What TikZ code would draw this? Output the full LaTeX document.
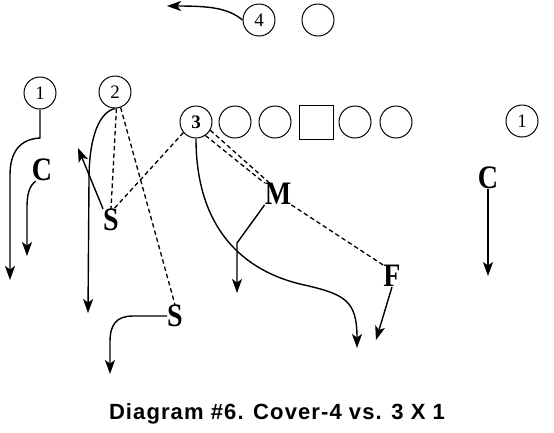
\documentclass[tikz,border=0pt]{standalone}
\usepackage{fontspec}
\usepackage{graphicx}
\setmainfont{Liberation Serif}
\newfontfamily\captionfont[LetterSpace=5]{Liberation Sans}
\usetikzlibrary{arrows.meta}
\newcommand{\tallglyph}[1]{\scalebox{1}[1.17]{#1}}

\begin{document}
\begin{tikzpicture}[x=1pt,y=1pt,yscale=-1,xscale=1,
  player/.style={circle,draw,line width=1pt,minimum size=32pt,inner sep=0pt,font=\fontsize{19}{19}\selectfont},
  snapbox/.style={rectangle,draw,line width=1pt,minimum size=34pt,inner sep=0pt},
  defender/.style={inner sep=0pt,font=\fontsize{28}{28}\selectfont\bfseries},
  route/.style={line width=1.4pt,-{Stealth[length=14pt,width=10pt,inset=3.5pt]}},
  readline/.style={line width=1.3pt,dash pattern={on 4.5pt off 3pt}}]
\path[use as bounding box] (0,0) rectangle (554,432);

%Shape: Circle (offense)
\node [player] (p4) at (259,20) {4};
\node [player] (p4b) at (318,20) {};
\node [player] (wrL1) at (40,93) {1};
\node [player] (wrL2) at (115,92) {2};
\node [player] (te3) at (196,122) {\textbf{3}};
\node [player] (lg) at (235,122) {};
\node [player] (lt) at (275,122) {};
\node [snapbox] (ctr) at (316,122) {};
\node [player] (rg) at (355,122) {};
\node [player] (rt) at (396,122) {};
\node [player] (wrR1) at (522,121) {1};

% Text Node (defense)
\node [defender] (cbL) at (42,170) {\tallglyph{C}};
\node [defender] (sS) at (111,220) {\tallglyph{S}};
\node [defender] (sD) at (175,316) {\tallglyph{S}};
\node [defender] (mM) at (278,194) {\tallglyph{M}};
\node [defender] (fF) at (392,276) {\tallglyph{F}};
\node [defender] (cbR) at (488,178) {\tallglyph{C}};

%Coordinates (route ends)
\coordinate (e4) at (167,6);
\coordinate (e1) at (10,280);
\coordinate (e9) at (27,256);
\coordinate (e2) at (88,313);
\coordinate (e5) at (78,148);
\coordinate (e8) at (110,374);
\coordinate (e3) at (357,348);
\coordinate (e6) at (237,293);
\coordinate (e7) at (376,340);
\coordinate (e10) at (488,276);

%Curve Lines
\draw [route] (p4.west) .. controls (228,8) and (210,6) .. (e4);
\draw [route] (wrL1.south) -- (40,138) .. controls (20,139) and (10,152) .. (10,175) -- (e1);
\draw [route] ([xshift=4pt]cbL.south west) .. controls (29,186) and (27,195) .. (27,207) -- (e9);
\draw [route] (wrL2.south) .. controls (100,112) and (89,135) .. (89,180) -- (e2);
\draw [route] (sD.west) -- (133,316) .. controls (116,316) and (110,325) .. (110,342) -- (e8);
\draw [route] (te3.south) .. controls (196,220) and (235,268) .. (300,284) .. controls (345,294) and (357,300) .. (e3);
%Straight Lines
\draw [route] (sS.north west) -- (e5);
\draw [route] (mM.south west) -- (237,243) -- (e6);
\draw [route] (fF.south) -- (e7);
\draw [route] (cbR.south) -- (e10);

%Dashed Lines
\draw [readline] (wrL2.275) -- (sS.north);
\draw [readline] (wrL2.290) -- (sD.north);
\draw [readline] (te3.220) -- ([xshift=3pt]sS.north);
\draw [readline] (te3.-55) -- (mM.north west);
\draw [readline] (te3.-30) -- ([xshift=5pt]mM.north west);
\draw [readline] (mM.south east) -- (fF.north west);

% Text Node
\node (cap) at (277,414) {\captionfont\bfseries\fontsize{22}{22}\selectfont Diagram \#6. Cover-4 vs. 3 X 1};

\end{tikzpicture}
\end{document}
